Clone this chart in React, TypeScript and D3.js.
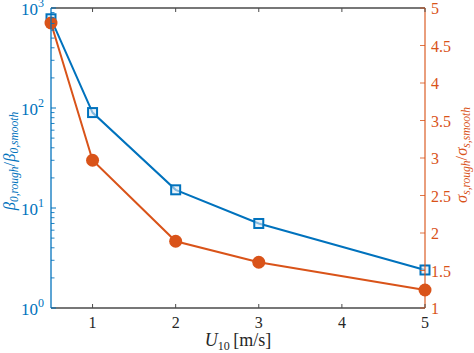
import * as d3 from "d3";

const windSpeed = [0.5, 1, 2, 3, 5];
const betaRatio = [780, 90, 15.2, 7.0, 2.4];
const sigmaRatio = [4.8, 2.97, 1.89, 1.61, 1.24];
const xTicks = [1, 2, 3, 4, 5];
const leftTicks = [1, 10, 100, 1000];
const rightTicks = [1, 1.5, 2, 2.5, 3, 3.5, 4, 4.5, 5];

const BLUE = "#0072BD";
const ORANGE = "#D95319";
const FONT = "'Liberation Serif'";

export default function App() {
  const margin = { top: 8, right: 49, bottom: 45, left: 51 };
  const W = 474, H = 353;
  const x = d3.scaleLinear().domain([0.5, 5]).range([margin.left, W - margin.right]);
  const yL = d3.scaleLog().domain([1, 1000]).range([H - margin.bottom, margin.top]);
  const yR = d3.scaleLinear().domain([1, 5]).range([H - margin.bottom, margin.top]);

  const lineL = d3.line<number>().x((_, i) => x(windSpeed[i])).y(d => yL(d));
  const lineR = d3.line<number>().x((_, i) => x(windSpeed[i])).y(d => yR(d));

  // minor log ticks 2..9 per decade
  const minor: number[] = [];
  for (let e = 0; e < 3; e++) for (let m = 2; m <= 9; m++) minor.push(m * Math.pow(10, e));

  const x0 = x(0.5), x1 = x(5), yTop = margin.top, yBot = H - margin.bottom;

  return (
    <svg width={W} height={H} style={{ position: "absolute", left: 0, top: 0 }}>
      <rect width={W} height={H} fill="white" />
      {/* data */}
      <path d={lineL(betaRatio) ?? ""} fill="none" stroke={BLUE} strokeWidth={2} />
      <path d={lineR(sigmaRatio) ?? ""} fill="none" stroke={ORANGE} strokeWidth={2} />
      {betaRatio.map((d, i) => (
        <rect key={i} x={x(windSpeed[i]) - 4.5} y={yL(d) - 4.5} width={9} height={9}
          fill="#dbe9f5" fillOpacity={0.6} stroke={BLUE} strokeWidth={2} />
      ))}
      {sigmaRatio.map((d, i) => (
        <circle key={i} cx={x(windSpeed[i])} cy={yR(d)} r={6.5} fill={ORANGE} />
      ))}

      {/* box */}
      <line x1={x0} x2={x1} y1={yTop} y2={yTop} stroke="#4a4a4a" strokeWidth={1.5} />
      <line x1={x0} x2={x1} y1={yBot} y2={yBot} stroke="#4a4a4a" strokeWidth={1.5} />
      <line x1={x0} x2={x0} y1={yTop} y2={yBot} stroke={BLUE} strokeWidth={1.5} opacity={0.85} />
      <line x1={x1} x2={x1} y1={yTop} y2={yBot} stroke={ORANGE} strokeWidth={1.5} opacity={0.75} />

      <g fontFamily={FONT}>
        {/* x ticks */}
        {xTicks.map(t => (
          <g key={t}>
            <line x1={x(t)} x2={x(t)} y1={yBot} y2={yBot - 4} stroke="#4a4a4a" />
            <line x1={x(t)} x2={x(t)} y1={yTop} y2={yTop + 4} stroke="#4a4a4a" />
            <text x={x(t)} y={yBot + 20} textAnchor="middle" fontSize={16} fill="#262626">{t}</text>
          </g>
        ))}
        <text x={(x0 + x1) / 2} y={H - 7} textAnchor="middle" fontSize={18} fill="#262626">
          <tspan fontStyle="italic">U</tspan>
          <tspan fontSize={12} dy={4}>10</tspan>
          <tspan dy={-4}>{"\u2009[m/s]"}</tspan>
        </text>

        {/* left log axis */}
        {minor.map(t => (
          <line key={t} x1={x0} x2={x0 + 3.5} y1={yL(t)} y2={yL(t)} stroke={BLUE} opacity={0.85} />
        ))}
        {leftTicks.map(t => (
          <g key={t}>
            <line x1={x0} x2={x0 + 5} y1={yL(t)} y2={yL(t)} stroke={BLUE} />
            <text x={x0 - 7} y={yL(t) + 7} textAnchor="end" fontSize={17} fill={BLUE}>
              10<tspan fontSize={12} dy={-8}>{Math.round(Math.log10(t))}</tspan>
            </text>
          </g>
        ))}
        <text transform={`translate(15,161) rotate(-90)`} textAnchor="middle"
          fontSize={16.5} fill={BLUE} fontStyle="italic">
          β<tspan fontSize={11.5} dy={3}>0,rough</tspan>
          <tspan dy={-3} fontStyle="normal">/</tspan>β<tspan fontSize={11.5} dy={3}>0,smooth</tspan>
        </text>

        {/* right axis */}
        {rightTicks.map(t => (
          <g key={t}>
            <line x1={x1} x2={x1 - 5} y1={yR(t)} y2={yR(t)} stroke={ORANGE} opacity={0.8} />
            <text x={x1 + 6} y={yR(t) + 6} fontSize={16} fill={ORANGE}>{t}</text>
          </g>
        ))}
        <text transform={`translate(467,155) rotate(-90)`} textAnchor="middle"
          fontSize={16.5} fill={ORANGE} fontStyle="italic">
          σ<tspan fontSize={11.5} dy={3}>s,rough</tspan>
          <tspan dy={-3} fontStyle="normal">/</tspan>σ<tspan fontSize={11.5} dy={3}>s,smooth</tspan>
        </text>
      </g>
    </svg>
  );
}
